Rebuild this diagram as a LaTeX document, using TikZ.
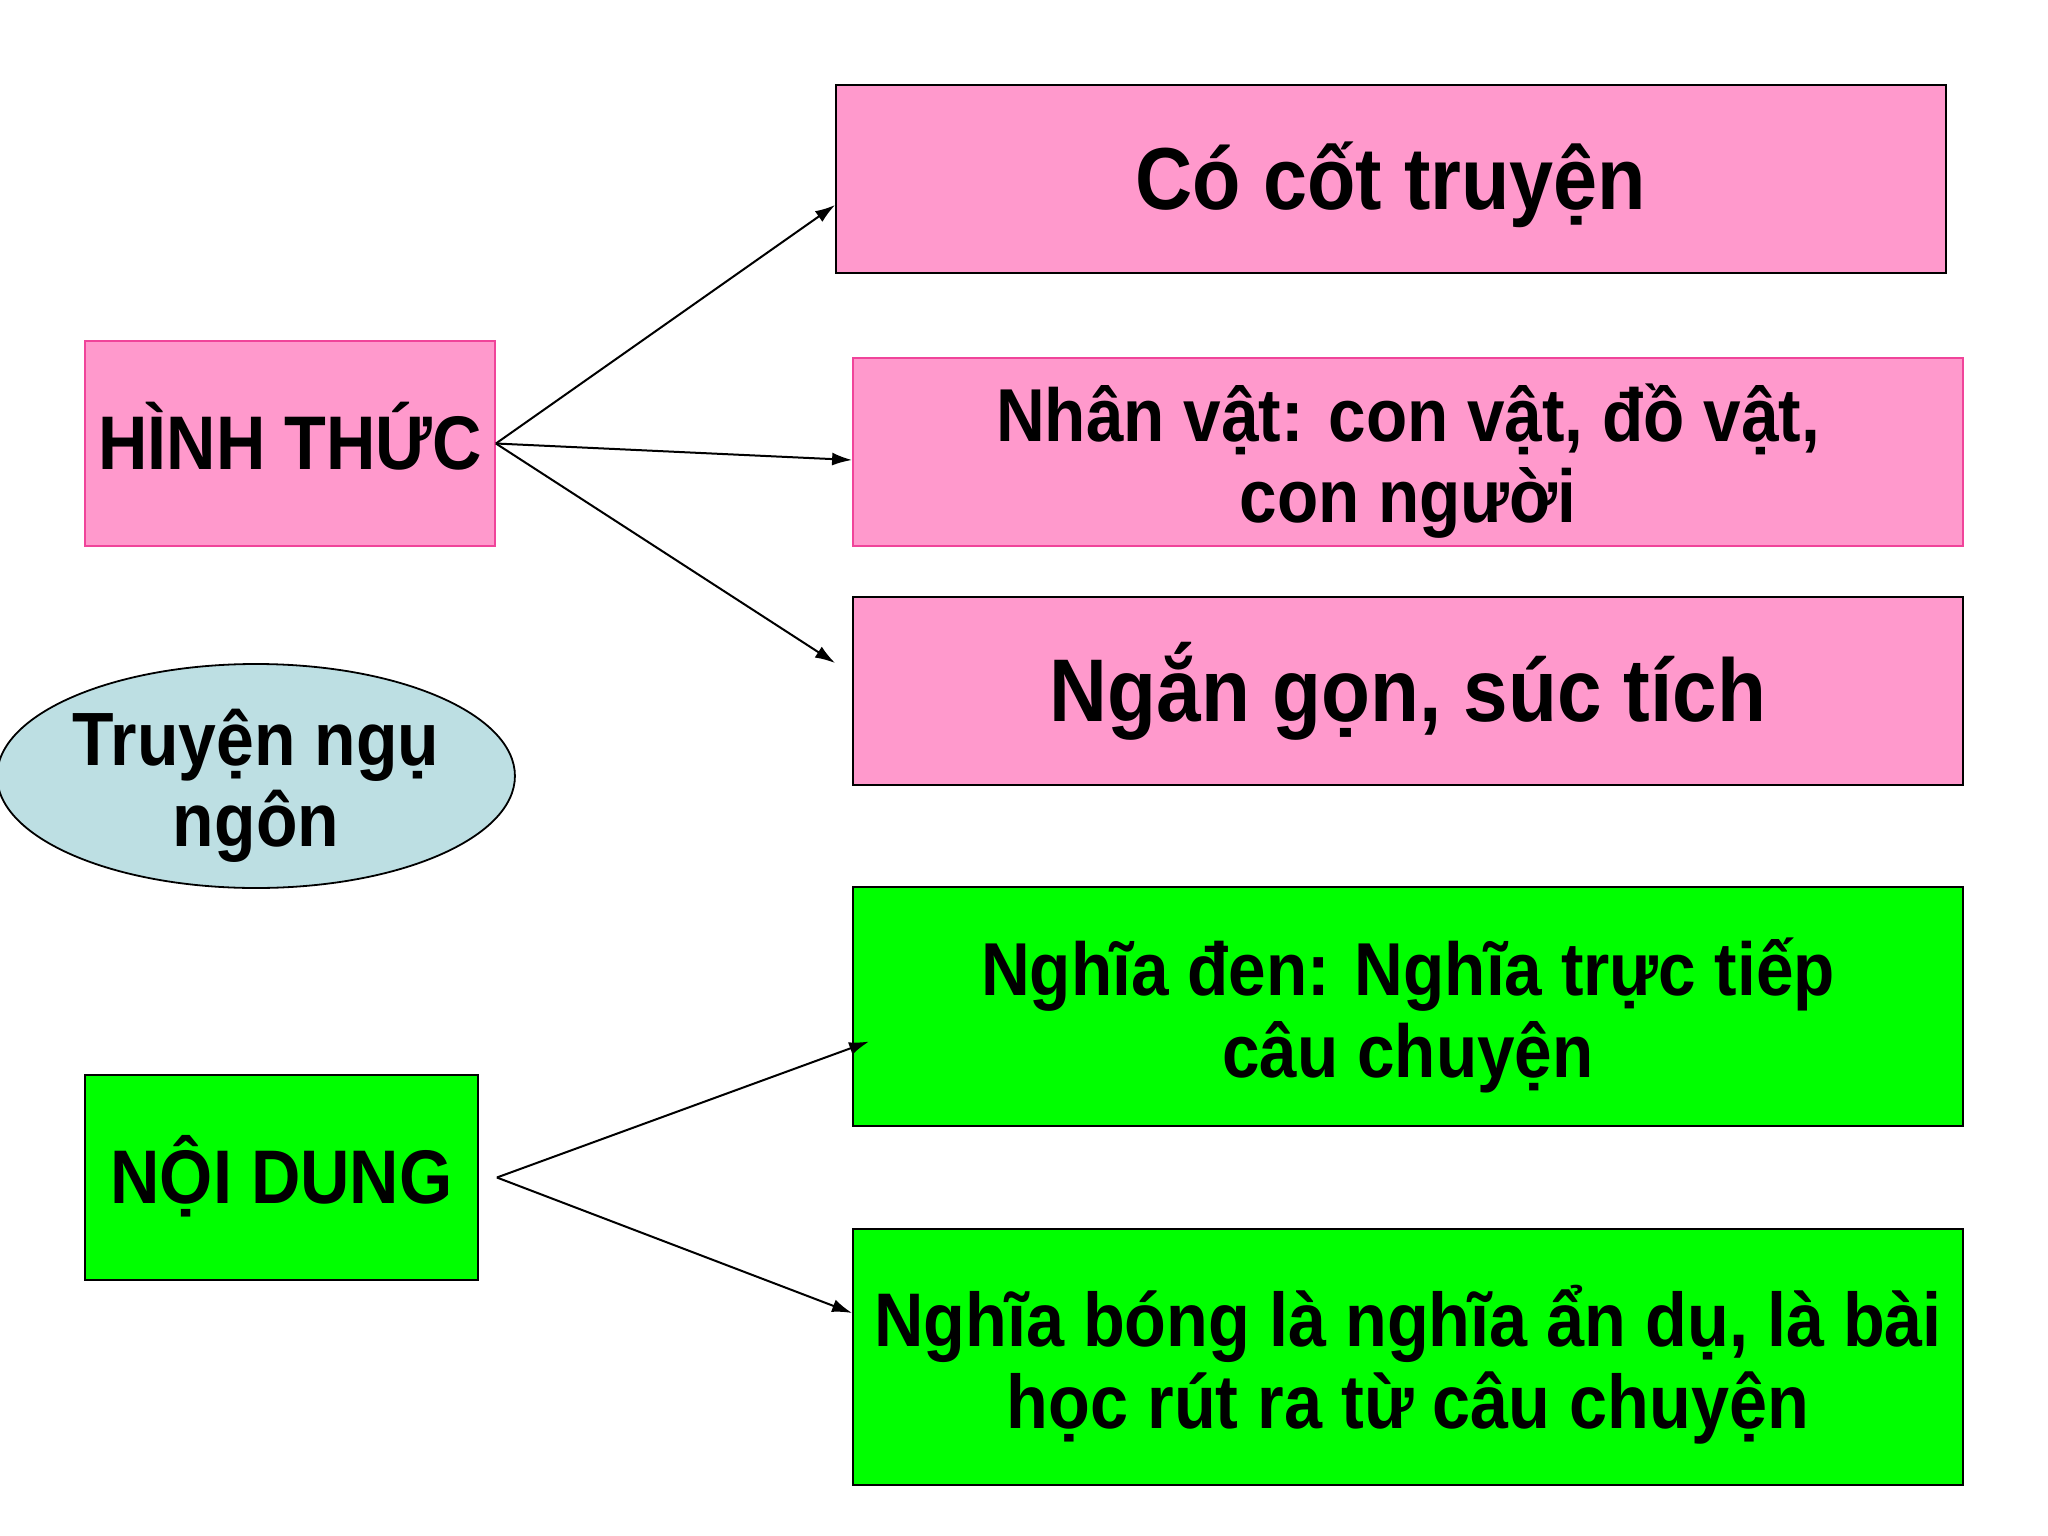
\documentclass[tikz,border=0pt]{standalone}
\usepackage{fontspec}
\usepackage{xcolor}
\setmainfont{Liberation Sans}[FakeStretch=0.9]
\usetikzlibrary{shapes.geometric, arrows.meta, positioning, calc}
\definecolor{hongnhat}{HTML}{FF99CC}
\definecolor{hongdam}{HTML}{F0449A}
\definecolor{xanhla}{HTML}{00FF00}
\definecolor{xanhnhat}{HTML}{BDDFE3}
\newcommand{\dongtren}{\rule{0pt}{1.0em}}
\tikzstyle{hopnho} = [rectangle, minimum width=410pt, minimum height=205pt, text centered, text height=68.8pt, text depth=16.1pt, draw=hongdam, line width=1.8pt, fill=hongnhat, inner sep=0pt]
\tikzstyle{hoplon} = [rectangle, minimum width=1110pt, minimum height=188pt, align=center, draw=black, line width=1.8pt, fill=hongnhat, inner sep=0pt]
\tikzstyle{hopxanh} = [rectangle, minimum width=1110pt, align=center, draw=black, line width=1.8pt, fill=xanhla, inner sep=0pt]
\tikzstyle{muiten} = [line width=2pt, -{Latex[length=20pt,width=13pt]}]

\begin{document}
\begin{tikzpicture}[x=1pt, y=-1pt, every node/.style={font=\bfseries}]

    \useasboundingbox[fill=white] (0,0) rectangle (2048,1536);

    % Nut trung tam
    \node (truyen) [ellipse, draw=black, line width=1.8pt, fill=xanhnhat, minimum width=512pt, minimum height=224pt, inner xsep=0pt, inner ysep=-8.5pt, align=center, font=\bfseries\fontsize{75.5}{81}\selectfont] at (256,776) {\dongtren Truyện ngụ\\ngôn};

    % Hinh thuc
    \node (hinhthuc) [hopnho, font=\bfseries\fontsize{76}{82}\selectfont] at (290,443.5) {HÌNH THỨC};
    \node (cottruyen) [hoplon, text height=79.6pt, text depth=18.7pt, font=\bfseries\fontsize{88}{98}\selectfont] at (1391,179) {Có cốt truyện};
    \node (nhanvat) [hoplon, draw=hongdam, font=\bfseries\fontsize{75}{81}\selectfont] at (1408,452) {\dongtren Nhân vật: con vật, đồ vật,\\con người};
    \node (nganGon) [hoplon, text height=80.5pt, text depth=18.9pt, font=\bfseries\fontsize{89}{96}\selectfont] at (1408,691) {Ngắn gọn, súc tích};

    % Noi dung
    \node (noidung) [hopnho, minimum width=393pt, draw=black, fill=xanhla, font=\bfseries\fontsize{76}{82}\selectfont] at (281.5,1177.5) {NỘI DUNG};
    \node (nghiaden) [hopxanh, minimum height=239pt, font=\bfseries\fontsize{75}{82}\selectfont] at (1408,1006.5) {\dongtren Nghĩa đen: Nghĩa trực tiếp\\câu chuyện};
    \node (nghiabong) [hopxanh, minimum height=256pt, font=\bfseries\fontsize{76}{82}\selectfont] at (1408,1357) {\dongtren Nghĩa bóng là nghĩa ẩn dụ, là bài\\học rút ra từ câu chuyện};

    % Mui ten
    \draw [muiten] (hinhthuc.east) -- ([yshift=-26pt]cottruyen.west);
    \draw [muiten] (hinhthuc.east) -- ([yshift=-8pt]nhanvat.west);
    \draw [muiten] (hinhthuc.east) -- ([xshift=-17pt,yshift=28pt]nganGon.west);
    \draw [muiten] ([xshift=18pt]noidung.east) -- ([xshift=17pt,yshift=-35pt]nghiaden.west);
    \draw [muiten] ([xshift=18pt]noidung.east) -- ([yshift=44pt]nghiabong.west);

\end{tikzpicture}
\end{document}
